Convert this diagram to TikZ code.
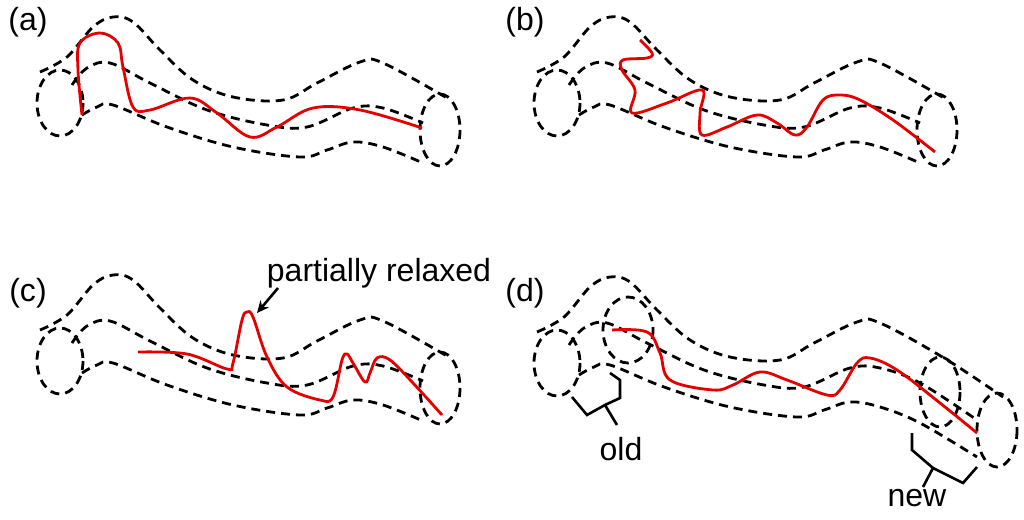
\documentclass[tikz,border=0pt]{standalone}
\usepackage{fontspec}
\setmainfont{Liberation Sans}
\usetikzlibrary{arrows.meta}
\begin{document}
\begin{tikzpicture}[x=1pt,y=-1pt,
  tube/.style={line width=2.8pt,dash pattern=on 9pt off 6pt,smooth,tension=0.6},
  endcap/.style={line width=2.8pt,dash pattern=on 9pt off 6pt},
  chain/.style={red!90!black,line width=2.8pt,smooth,tension=0.6},
  lbl/.style={font=\fontsize{32}{34}\selectfont,inner sep=0pt},
  brk/.style={line width=2.6pt,line join=miter}]
\useasboundingbox (0,0) rectangle (1024,519);
\newcommand\tubebody[1]{%
 \draw[tube] plot coordinates {(40,72) (67,57) (93,27) (113,17) (133,22) (160,50) (193,80) (233,97) (283,100) (317,83) (360,62) (383,63) (447,98)#1};}
\newcommand\tubemid[1]{%
 \draw[tube] plot coordinates {(72,85) (87,68) (110,63) (150,83) (207,110) (267,125) (307,127) (353,108) (383,108) (423,123)#1};}
\newcommand\tubebot[1]{%
 \draw[tube] plot coordinates {(82,115) (97,107) (113,105) (167,127) (233,147) (300,157) (327,150) (353,142) (383,147) (423,163)#1};}
% (a)
\node[lbl] (la) at (28,22) {(a)};
\begin{scope}
 \tubebody{}\tubemid{}\tubebot{}
 \draw[endcap] (60,103) ellipse [x radius=23,y radius=33];
 \draw[endcap] (440,130) ellipse [x radius=20,y radius=36];
 \draw[chain] plot coordinates {(82,115) (78,70) (80,43) (100,33) (118,43) (123,67) (133,107) (150,110) (190,98) (217,113) (250,137) (277,127) (313,108) (360,110) (422,128)};
\end{scope}
% (b)
\node[lbl] (lb) at (525,22) {(b)};
\begin{scope}[shift={(497,0)}]
 \tubebody{}\tubemid{}\tubebot{}
 \draw[endcap] (60,103) ellipse [x radius=23,y radius=33];
 \draw[endcap] (440,130) ellipse [x radius=20,y radius=36];
\end{scope}
\draw[chain] plot coordinates {(640,40) (652,53) (647,58) (623,60) (622,70) (635,90) (632,113) (667,103) (702,90) (700,113) (702,135) (727,127) (757,115) (777,123) (795,135) (807,127) (823,100) (840,95) (860,100) (893,120) (935,152)};
% (c)
\node[lbl] (lc) at (28,293) {(c)};
\begin{scope}[shift={(0,258)}]
 \tubebody{}\tubemid{}\tubebot{}
 \draw[endcap] (60,103) ellipse [x radius=23,y radius=33];
 \draw[endcap] (440,130) ellipse [x radius=20,y radius=36];
\end{scope}
\draw[chain] plot coordinates {(138,352) (187,354) (227,369) (233,363) (242,320) (247,312) (253,317) (267,357) (287,387) (320,400) (333,397) (342,360) (347,354) (353,363) (365,382) (370,373) (377,358) (390,360) (413,383) (442,415)};
\node[lbl] (pr) at (379,273) {partially relaxed};
\coordinate (pk) at (257,313);
\draw[line width=2.6pt,-{Stealth[length=12pt,width=11pt]}] (278,288) -- (pk);
% (d)
\node[lbl] (ld) at (525,293) {(d)};
\begin{scope}[shift={(497,260)}]
 \tubebody{(506,137)}\tubemid{(480,160)}\tubebot{(480,197)}
 \draw[endcap] (60,103) ellipse [x radius=23,y radius=33];
 \draw[endcap] (131,70) ellipse [x radius=25,y radius=33];
 \draw[endcap] (443,132) ellipse [x radius=20,y radius=35];
 \draw[endcap] (500,170) ellipse [x radius=20,y radius=37];
\end{scope}
\draw[chain] plot coordinates {(612,330) (647,332) (660,353) (670,380) (713,390) (733,385) (760,372) (787,380) (827,395) (840,390) (857,363) (870,358) (897,370) (940,403) (977,433)};
\node[lbl] (old) at (621,449) {old};
\node[lbl] (new) at (917,498) {new};
\draw[brk] (572,397) -- (587,415) -- (605,405) -- (620,398) -- (620,380) -- (610,373);
\draw[brk] (605,405) -- (617,425);
\draw[brk] (912,433) -- (912,450) -- (933,468) -- (963,483) -- (977,467);
\draw[brk] (933,468) -- (923,487);
\end{tikzpicture}
\end{document}
